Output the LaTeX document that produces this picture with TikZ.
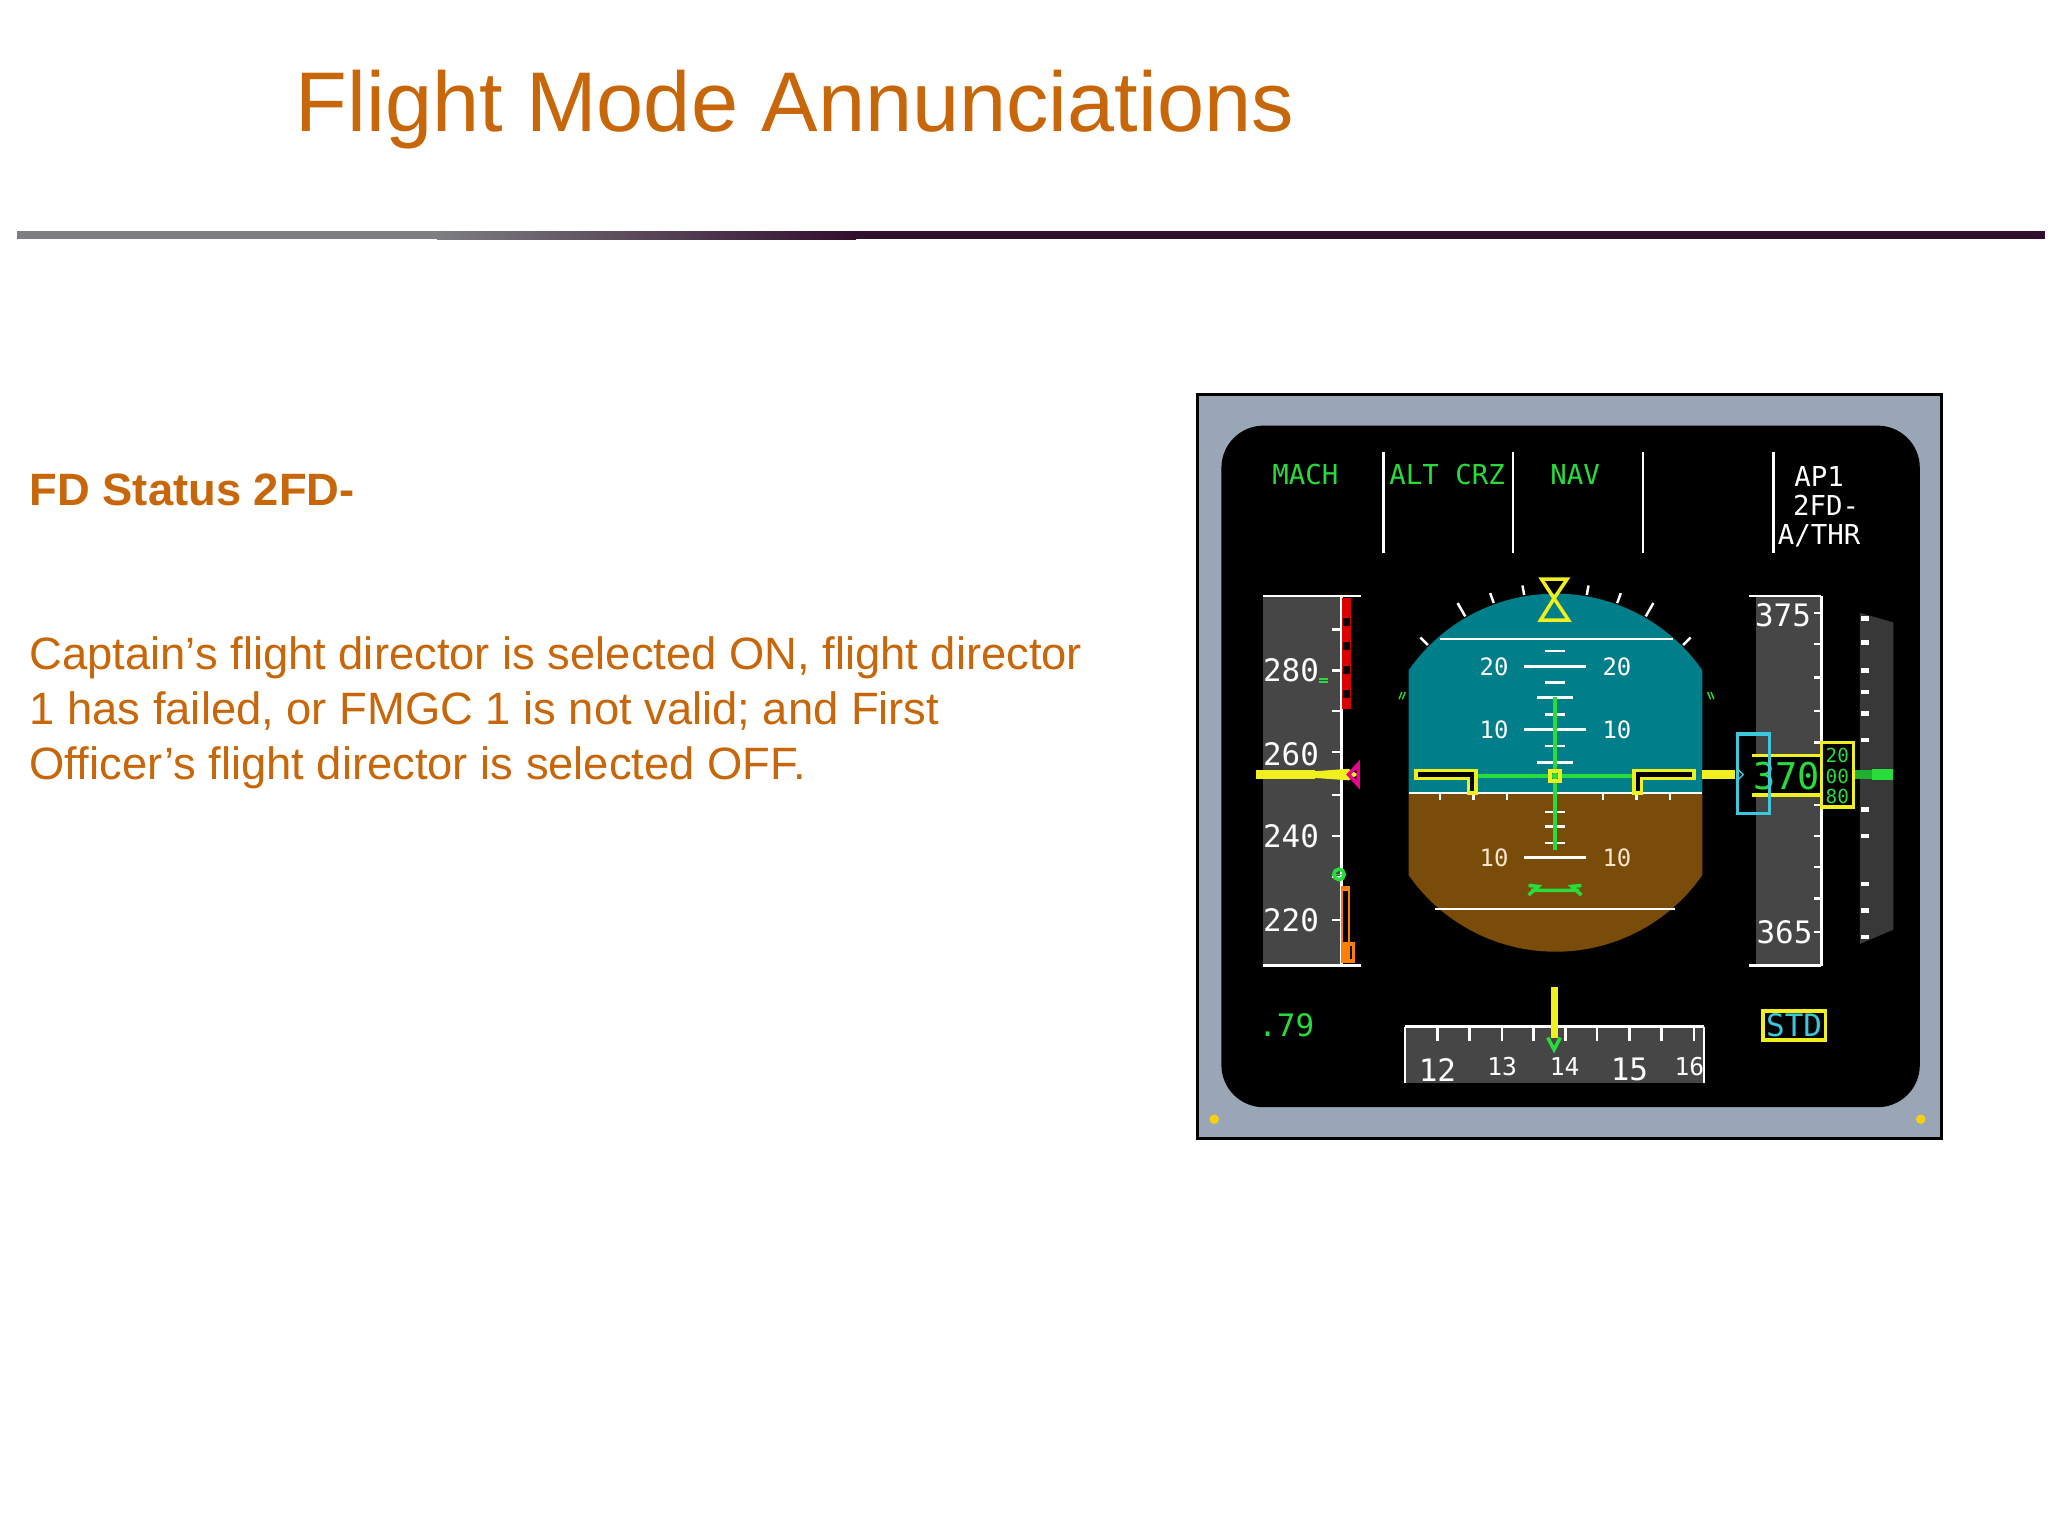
\documentclass[tikz,border=0pt]{standalone}
\usepackage{fontspec}
\setmainfont{Liberation Sans}
\newfontfamily\pfdfont{DejaVu Sans Mono}
\definecolor{orng}{RGB}{200,102,10}
\definecolor{bezel}{RGB}{152,166,182}
\definecolor{sky}{RGB}{0,126,138}
\definecolor{gnd}{RGB}{122,76,10}
\definecolor{tape}{RGB}{70,70,70}
\definecolor{pgreen}{RGB}{40,220,60}
\definecolor{pyel}{RGB}{240,240,30}
\definecolor{pcyan}{RGB}{60,200,220}
\definecolor{rgray}{RGB}{125,125,130}
\definecolor{rpurp}{RGB}{50,14,45}
\tikzset{
 lbl/.style={anchor=base west,text=orng,inner sep=0pt},
 pf/.style={font=\pfdfont\fontsize{#1}{#1}\selectfont,inner sep=0pt},
 wl/.style={draw=white,line width=0.7pt},
}
\begin{document}
\begin{tikzpicture}[x=0.1mm,y=-0.1mm]
\useasboundingbox (0,0) rectangle (2048,1536);
\fill[white] (0,0) rectangle (2048,1536);
\node[lbl,font=\fontsize{24.1pt}{28pt}\selectfont] (title) at (295,131) {Flight Mode Annunciations};
\fill[rgray] (17,231) rectangle (438,239);
\shade[left color=rgray,right color=rpurp] (437,231) rectangle (856,239);
\fill[rpurp] (855,231) rectangle (2045,239);
\node[lbl,font=\bfseries\fontsize{12.9pt}{14pt}\selectfont] (fd) at (29,505) {FD Status 2FD-};
\node[lbl,font=\fontsize{12.9pt}{15.6pt}\selectfont,align=left,anchor=north west] (body) at (29,636) {Captain\symbol{39}s flight director is selected ON, flight director\\1 has failed, or FMGC 1 is not valid; and First\\Officer’s flight director is selected OFF.};
\begin{scope}[shift={(1195,392)},scale=0.48]
\fill[bezel,draw=black,line width=0.8pt] (5,5) rectangle (1555,1555);
\fill[black,rounded corners=12pt] (55,70) rectangle (1510,1490);
\fill[pyel!70!orange] (40,1515) circle (10) (1512,1515) circle (10);
% FMA
\foreach \x in {393,662,933,1205} \draw[wl] (\x,125) -- (\x,335);
\node[pf=7.8pt,text=pgreen] (m1) at (230,172) {MACH};
\node[pf=7.8pt,text=pgreen] (m2) at (525,172) {ALT CRZ};
\node[pf=7.8pt,text=pgreen] (m3) at (792,172) {NAV};
\node[pf=7.8pt,text=white] (m4) at (1300,175) {AP1};
\node[pf=7.8pt,text=white] (m5) at (1315,237) {2FD-};
\node[pf=7.8pt,text=white] (m6) at (1300,300) {A/THR};
% speed tape
\fill[tape] (142,425) rectangle (305,1195);
\draw[wl] (142,425) -- (345,425) (142,1195) -- (345,1195) (305,425) -- (305,1195);
\foreach \y in {495,580,665,750,840,925,1010,1100} \draw[wl] (285,\y) -- (305,\y);
\fill[red!85!black] (307,430) rectangle (325,660);
\foreach \y in {470,520,570,620} \fill[black] (309,\y) rectangle (323,\y+18);
\foreach \t/\y in {280/580,260/755,240/925,220/1100} \node[pf=8.8pt,text=white] at (200,\y) {\t};
\draw[pgreen] (258,598) -- (278,598) (258,604) -- (278,604);
\fill[orange] (305,1030) rectangle (322,1190);
\fill[black] (309,1040) rectangle (318,1145);
\draw[orange,line width=1pt] (307,1150) rectangle (330,1185);
\draw[pgreen,line width=1pt] (300,1005) circle (11);
\draw[pgreen] (288,1005) -- (312,1005);
\draw[pyel,line width=2.4pt] (128,797) -- (250,797);
\fill[pyel] (250,790) -- (320,785) -- (340,797) -- (320,809) -- (250,804) -- cycle;
\draw[magenta,line width=1pt] (340,775) -- (320,797) -- (340,819) -- cycle;
% attitude
\begin{scope}
\clip (445,400) rectangle (1057,1200);
\clip (751,793) circle (373);
\fill[sky] (400,400) rectangle (1100,835);
\fill[gnd] (400,835) rectangle (1100,1200);
\end{scope}
\foreach \a/\l in {10/20,20/22,30/32,45/22} {
 \draw[wl] (751,793) ++(90+\a:-376) -- ++(90+\a:-\l);
 \draw[wl] (751,793) ++(90-\a:-376) -- ++(90-\a:-\l);
}
\draw[pgreen] (425,640) -- (431,625) (432,640) -- (438,625) (1068,625) -- (1074,640) (1075,625) -- (1081,640);
\draw[pyel,line width=1pt] (722,390) -- (775,390) -- (748,430) -- cycle (748,430) -- (720,475) -- (778,475) -- cycle;
\draw[wl] (445,835) -- (1057,835) (510,515) -- (995,515) (500,1077) -- (1000,1077);
\foreach \x in {510,580,650,850,920,990} \draw[wl] (\x,835) -- (\x,850);
\draw[wl] (685,572) -- (815,572) (685,703) -- (815,703) (685,970) -- (815,970);
\draw[wl] (730,540) -- (770,540) (730,605) -- (770,605) (712,636) -- (788,636) (730,672) -- (770,672) (730,738) -- (770,738) (712,772) -- (788,772) (730,875) -- (770,875) (730,905) -- (770,905) (730,940) -- (770,940);
\foreach \s in {1,-1} {
 \node[pf=6.8pt,text=white] at (751-\s*128,572) {20};
 \node[pf=6.8pt,text=white] at (751-\s*128,703) {10};
 \node[pf=6.8pt,text=white!80!orange] at (751-\s*128,970) {10};
}
\draw[pgreen,line width=1pt] (750,635) -- (750,955) (460,800) -- (1040,800);
\draw[pgreen,line width=1pt] (700,1038) -- (800,1038) (695,1028) -- (715,1030) -- (695,1048) (805,1028) -- (785,1030) -- (805,1048);
\draw[pyel,line width=1pt,fill=black] (460,788) -- (585,788) -- (585,835) -- (570,835) -- (570,805) -- (460,805) -- cycle;
\draw[pyel,line width=1pt,fill=black] (1040,788) -- (915,788) -- (915,835) -- (930,835) -- (930,805) -- (1040,805) -- cycle;
\draw[pyel,line width=1pt] (740,790) rectangle (760,810);
% altitude tape
\fill[tape] (1168,425) rectangle (1305,1195);
\draw[wl] (1155,425) -- (1305,425) (1155,1195) -- (1305,1195) (1305,425) -- (1305,1195);
\foreach \y in {460,525,595,665,730,860,925,990,1055,1125} \draw[wl] (1290,\y) -- (1305,\y);
\node[pf=8.8pt,text=white] at (1225,465) {375};
\node[pf=8.8pt,text=white] at (1228,1125) {365};
\fill[black] (1160,757) rectangle (1305,840);
\draw[pyel,line width=1pt] (1160,757) -- (1305,757) (1160,840) -- (1305,840);
\draw[pyel,line width=1pt,fill=black] (1305,730) rectangle (1372,865);
\node[pf=10.5pt,text=pgreen] at (1232,800) {370};
\node[pf=5.5pt,text=pgreen] at (1338,757) {20};
\node[pf=5.5pt,text=pgreen] at (1338,800) {00};
\node[pf=5.5pt,text=pgreen] at (1338,843) {80};
\draw[pcyan,line width=1pt] (1130,712) rectangle (1197,878);
\draw[pyel,line width=2.4pt] (1057,797) -- (1125,797);
\draw[pcyan] (1130,785) -- (1142,797) -- (1130,809);
% VS
\fill[tape!80!black] (1385,460) -- (1455,480) -- (1455,1120) -- (1385,1150) -- cycle;
\foreach \y in {472,522,580,625,670,725,870,925,1025,1080,1135} \draw[white,line width=1.3pt] (1388,\y) -- (1405,\y);
\draw[pgreen!80!black,line width=2.4pt] (1375,797) -- (1410,797);
\draw[pgreen,line width=3pt] (1410,797) -- (1455,797);
% bottom
\node[pf=8.8pt,text=pgreen] at (190,1320) {.79};
\draw[pyel,line width=1pt] (1183,1290) rectangle (1313,1350);
\node[pf=8.8pt,text=pcyan] at (1248,1320) {STD};
\fill[tape] (438,1322) rectangle (1060,1440);
\draw[wl] (438,1322) -- (1060,1322) (438,1322) -- (438,1440) (1060,1322) -- (1060,1440);
\foreach \x in {505,572,640,705,772,838,905,972,1040} \draw[wl] (\x,1322) -- (\x,1352);
\node[pf=8.8pt,text=white] at (505,1412) {12};
\node[pf=7pt,text=white] at (640,1405) {13};
\node[pf=7pt,text=white] at (770,1405) {14};
\node[pf=8.8pt,text=white] at (905,1412) {15};
\node[pf=7pt,text=white] at (1030,1405) {16};
\draw[pyel,line width=2pt] (748,1240) -- (748,1345);
\draw[pgreen,line width=1pt] (735,1345) -- (748,1370) -- (761,1345);
\end{scope}
\end{tikzpicture}
\end{document}
